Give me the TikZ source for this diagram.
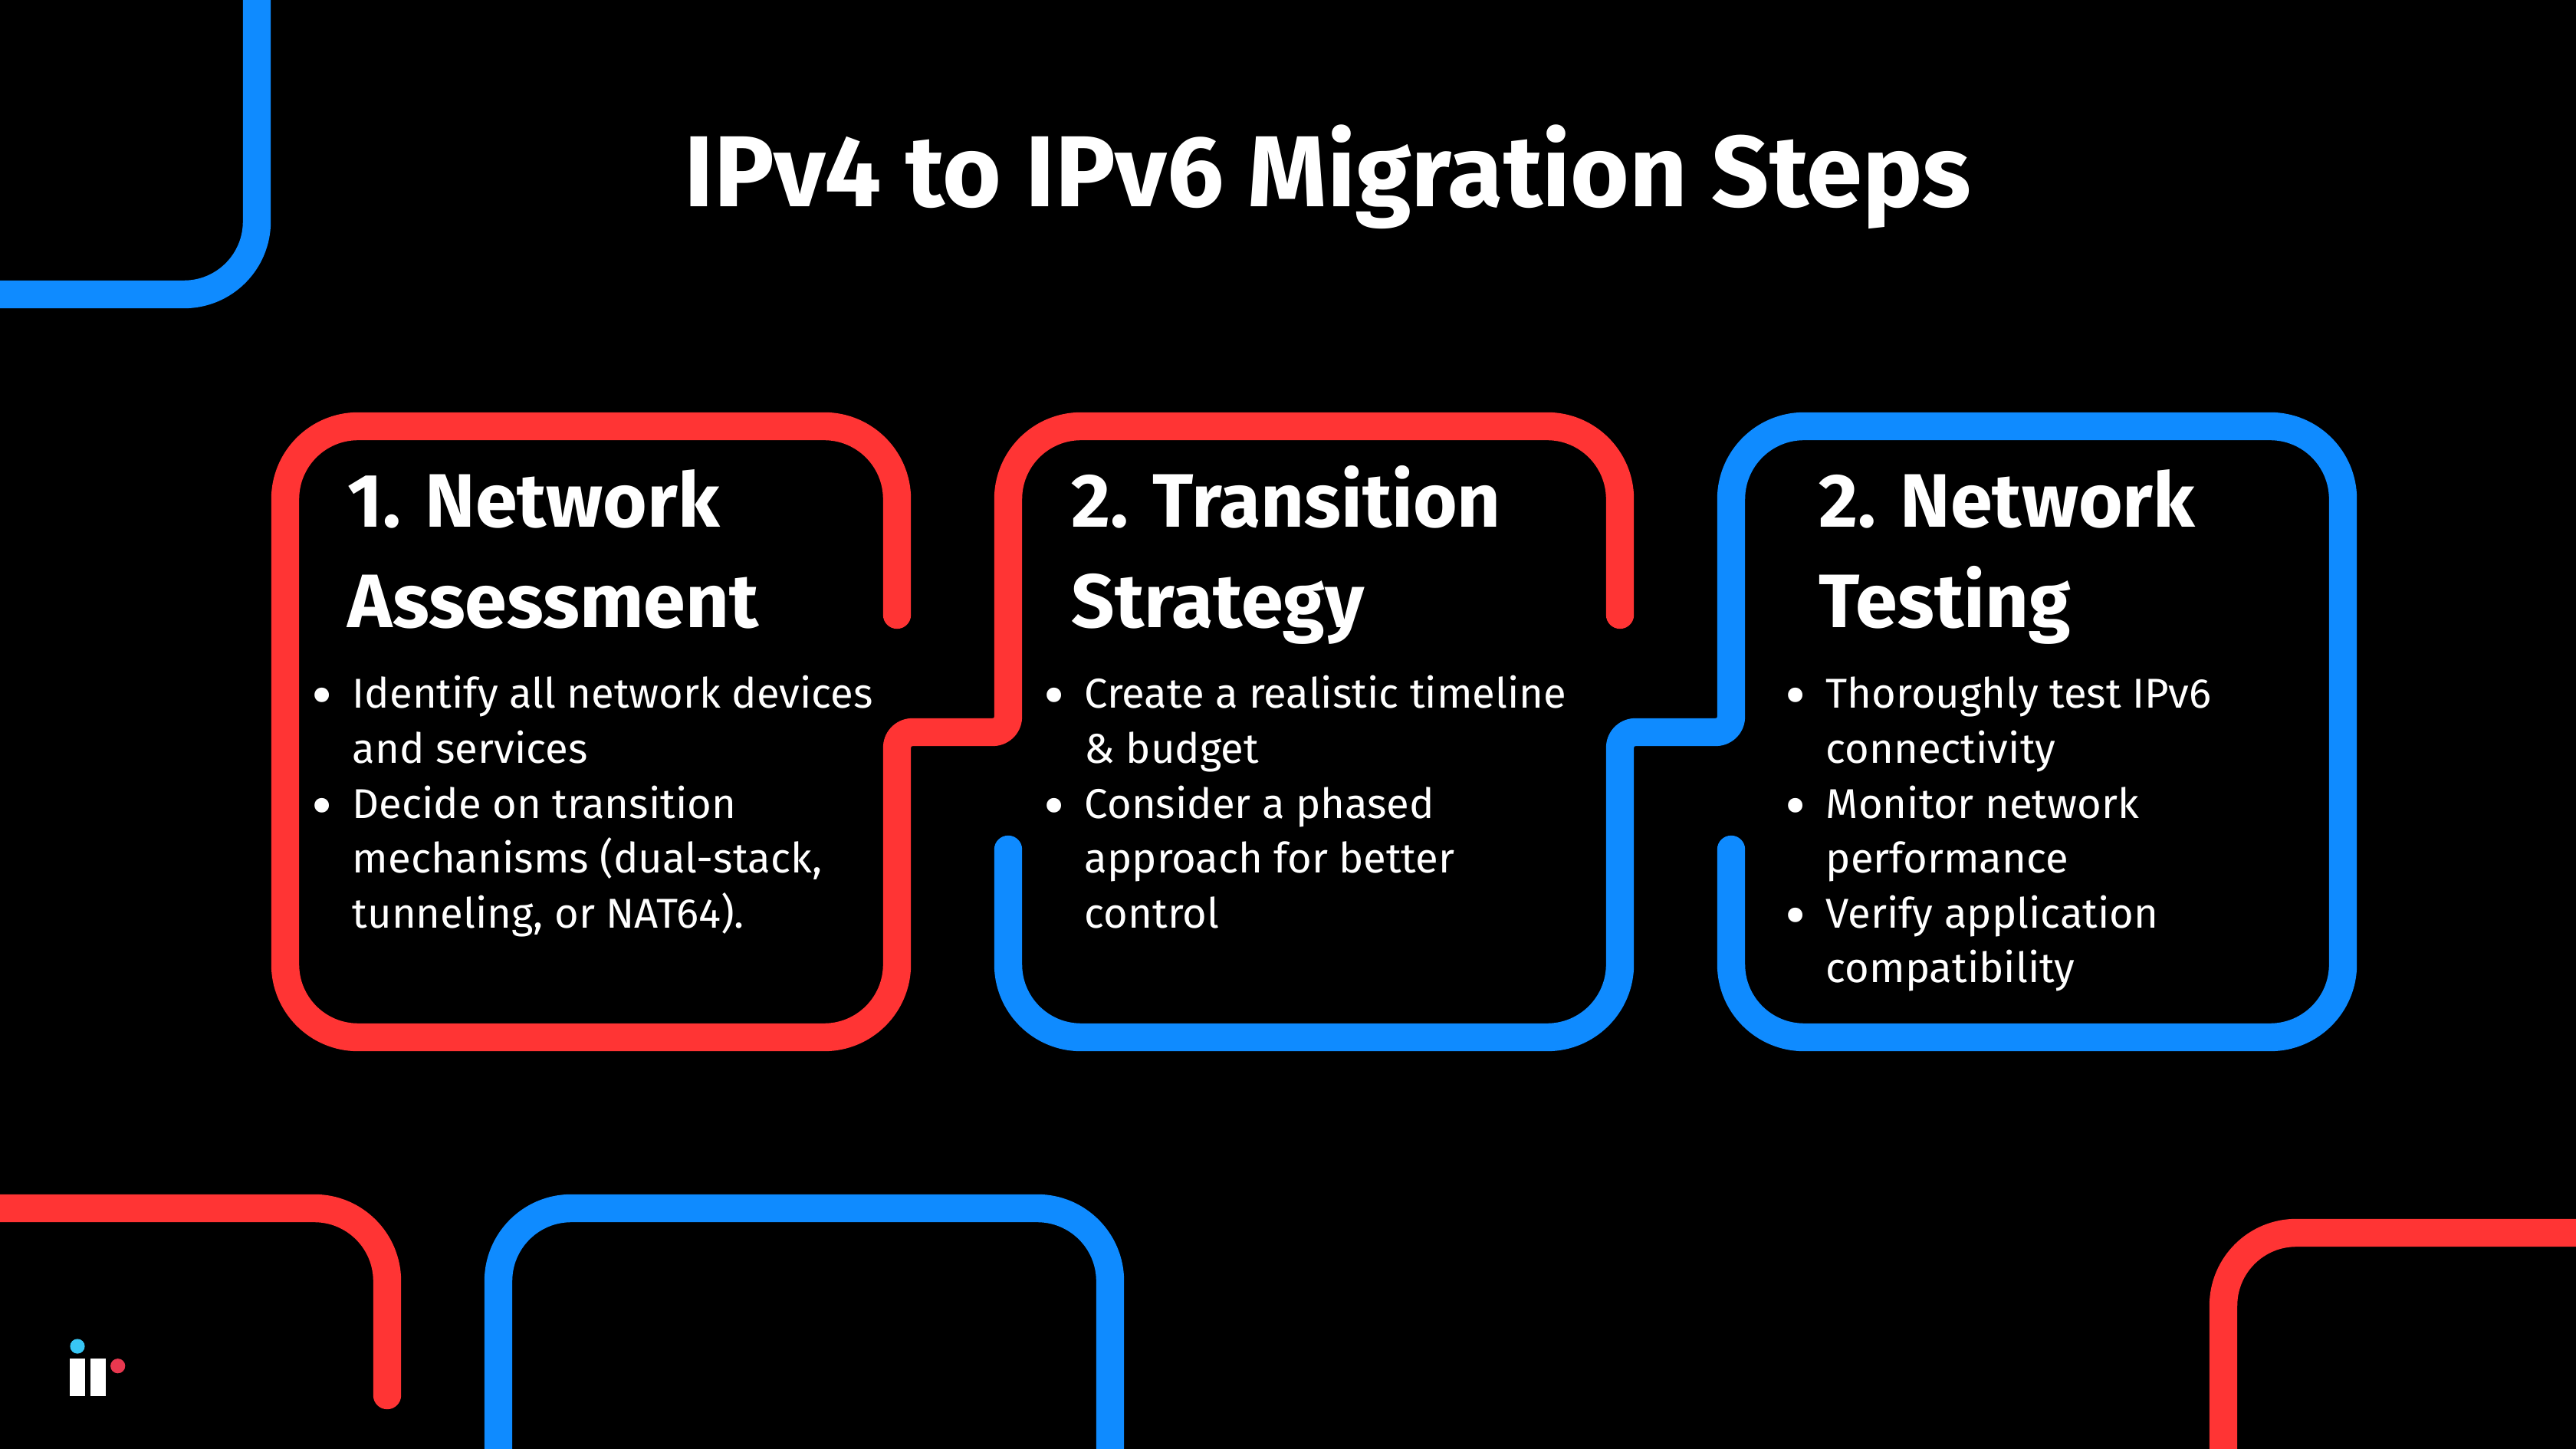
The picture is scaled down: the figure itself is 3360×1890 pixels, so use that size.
\documentclass[tikz,border=0pt]{standalone}
\usepackage{fontspec}
\setmainfont{Fira Sans}
\usepackage{xcolor}
\definecolor{clRed}{HTML}{FF3434}
\definecolor{clBlue}{HTML}{0F8BFF}
\definecolor{clDotBlue}{HTML}{38C6F4}
\definecolor{clDotRed}{HTML}{E8384F}
\usetikzlibrary{positioning}
\tikzset{
  track/.style={line width=9.1pt, line cap=round, line join=round, rounded corners=23.75pt},
  redtrack/.style={track, draw=clRed},
  bluetrack/.style={track, draw=clBlue},
  titletext/.style={text=white, inner sep=0pt, anchor=base, font=\fontsize{32.9}{40}\selectfont\bfseries},
  headtext/.style={text=white, inner sep=0pt, anchor=north west, align=left, font=\fontsize{24.7}{32.75}\selectfont\bfseries},
  bodytext/.style={text=white, inner sep=0pt, anchor=north west, align=left, font=\fontsize{13.6}{17.9}\selectfont},
  logobar/.style={fill=white, draw=none},
}
\newcommand{\itemdot}{\llap{\raisebox{-3pt}{\fontsize{21}{21}\selectfont\textbullet}\hspace{6.5pt}}}
\begin{document}
\begin{tikzpicture}[x=0.25pt,y=-0.25pt]
  \fill[black] (0,0) rectangle (3360,1890);
  \useasboundingbox (0,0) rectangle (3360,1890);
  % corner decoration
  \draw[bluetrack] (335,-40) -- (335,384) -- (-40,384);
  \draw[redtrack] (-40,1576) -- (505,1576) -- (505,1820);
  \draw[bluetrack] (650,1930) -- (650,1576) -- (1448,1576) -- (1448,1930);
  \draw[redtrack] (3400,1608) -- (2900,1608) -- (2900,1930);
  % step frames
  \draw[redtrack] (1170,802) -- (1170,556) -- (372,556) -- (372,1353) -- (1170,1353)
    [rounded corners=5pt] -- (1170,955) -- (1315,955) [rounded corners=23.75pt] -- (1315,556) -- (2113,556) -- (2113,802);
  \draw[bluetrack] (1315,1108) -- (1315,1353) -- (2113,1353)
    [rounded corners=5pt] -- (2113,955) -- (2258,955) [rounded corners=23.75pt] -- (2258,556) -- (3056,556) -- (3056,1353) -- (2258,1353) -- (2258,1108);
  % texts
  \node[titletext] (title) at (1732,270) {IPv4 to IPv6 Migration Steps};
  \node[headtext] (headA) at (453,595) {\strut 1. Network\\Assessment};
  \node[headtext] (headB) at (1397,595) {\strut 2. Transition\\Strategy};
  \node[headtext] (headC) at (2372,595) {\strut 2. Network\\Testing};
  \node[bodytext] (bodyA) at (459,873) {\strut\itemdot Identify all network devices\\and services\\\itemdot Decide on transition\\mechanisms (dual-stack,\\tunneling, or NAT64).};
  \node[bodytext] (bodyB) at (1414,873) {\strut\itemdot Create a realistic timeline\\\&\ budget\\\itemdot Consider a phased\\approach for better\\control};
  \node[bodytext] (bodyC) at (2381,873) {\strut\itemdot Thoroughly test IPv6\\connectivity\\\itemdot Monitor network\\performance\\\itemdot Verify application\\compatibility};
  % logo
  \fill[clDotBlue] (101,1756) circle (2.4pt);
  \fill[logobar] (91.3,1772) rectangle (110.7,1820.7);
  \fill[logobar] (118.3,1772) rectangle (137.7,1820.7);
  \fill[clDotRed] (153.7,1781.7) circle (2.4pt);
\end{tikzpicture}
\end{document}
